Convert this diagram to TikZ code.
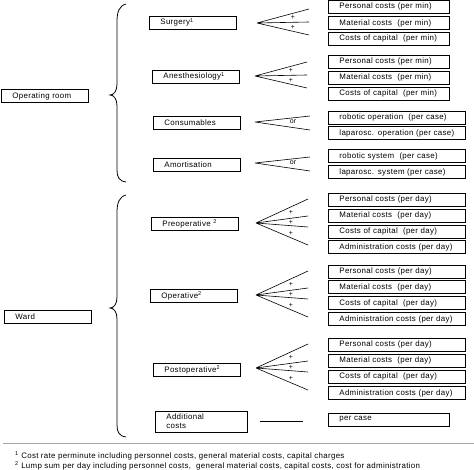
\documentclass[tikz,border=0pt]{standalone}
\usepackage{fontspec}
\setmainfont{Liberation Sans}[LetterSpace=4]
\tikzset{
  box/.style={rectangle, draw, line width=0.9pt, anchor=west, align=left,
    minimum height=13pt, inner xsep=11pt, inner ysep=0pt, font=\fontsize{7.9}{9}\selectfont},
  lbox/.style={box, text width=65pt},
  mbox/.style={box, text width=99pt},
  dbox/.style={box, text width=115pt},
  fan/.style={line width=0.6pt},
  sign/.style={font=\fontsize{7}{8}\selectfont, inner sep=0pt},
  brace/.style={line width=0.8pt},
  note/.style={anchor=west, inner sep=0pt, font=\fontsize{7.9}{9}\selectfont}
}
\begin{document}
\begin{tikzpicture}[x=1pt, y=-1pt]
\useasboundingbox (0,0) rectangle (474,470);

% ---- main cost centres ----
\node[lbox] (or) at (1,96) {Operating room};
\node[lbox] (ward) at (4,317) {Ward};

% ---- operating room ----
\node[lbox] (sur) at (149,22.5) {Surgery\textsuperscript{1}};
\node[lbox] (ane) at (152,76.5) {Anesthesiology\textsuperscript{1}};
\node[lbox] (con) at (153,123) {Consumables};
\node[lbox] (amo) at (153,164.5) {Amortisation};

\node[mbox] (sur1) at (328,6.5) {Personal costs (per min)};
\node[mbox] (sur2) at (328,23) {Material costs~ (per min)};
\node[mbox] (sur3) at (328,38.5) {Costs of capital~ (per min)};
\node[mbox] (ane1) at (328,61.5) {Personal costs (per min)};
\node[mbox] (ane2) at (328,77.5) {Material costs~ (per min)};
\node[mbox] (ane3) at (328,93.5) {Costs of capital~ (per min)};
\node[dbox] (con1) at (328,117.5) {robotic operation~ (per case)};
\node[dbox] (con2) at (328,133) {laparosc. operation (per case)};
\node[dbox] (amo1) at (328,156) {robotic system~ (per case)};
\node[dbox] (amo2) at (328,172) {laparosc. system (per case)};

% ---- ward ----
\node[lbox] (pre) at (151,223.5) {Preoperative \textsuperscript{2}};
\node[lbox] (ope) at (150,296) {Operative\textsuperscript{2}};
\node[lbox] (pos) at (153,370) {Postoperative\textsuperscript{2}};
\node[lbox, text width=70pt, minimum height=21pt] (add) at (155,421.5) {Additional\\costs};

\node[dbox] (pre1) at (328,199.5) {Personal costs (per day)};
\node[dbox] (pre2) at (328,215.5) {Material costs~ (per day)};
\node[dbox] (pre3) at (328,231.5) {Costs of capital~ (per day)};
\node[dbox] (pre4) at (328,247) {Administration costs (per day)};
\node[dbox] (ope1) at (328,271.5) {Personal costs (per day)};
\node[dbox] (ope2) at (328,287) {Material costs~ (per day)};
\node[dbox] (ope3) at (328,303) {Costs of capital~ (per day)};
\node[dbox] (ope4) at (328,319) {Administration costs (per day)};
\node[dbox] (pos1) at (328,344.5) {Personal costs (per day)};
\node[dbox] (pos2) at (328,360.5) {Material costs~ (per day)};
\node[dbox] (pos3) at (328,376.5) {Costs of capital~ (per day)};
\node[dbox] (pos4) at (328,393) {Administration costs (per day)};
\node[mbox] (pc) at (328,419.5) {per case};

% ---- braces ----
\draw[brace] (126,4) .. controls (119,6) and (117,12) .. (117,22) -- (117,84)
  .. controls (117,91) and (114,95) .. (110,95)
  .. controls (114,95) and (117,99) .. (117,106) -- (117,170)
  .. controls (117,177) and (119,181) .. (126,182);
\draw[brace] (126,195) .. controls (119,197) and (117,203) .. (117,213) -- (117,297)
  .. controls (117,304) and (114,308) .. (110,308)
  .. controls (114,308) and (117,312) .. (117,319) -- (117,425)
  .. controls (117,432) and (119,436) .. (126,437);

% ---- fans ----
\coordinate (surf) at (257,23);
\coordinate (anef) at (255,76);
\coordinate (conf) at (255,122);
\coordinate (amof) at (255,163);
\coordinate (pref) at (256,223);
\coordinate (opef) at (256,295);
\coordinate (posf) at (256,368);

\foreach \f in {surf, anef} {
  \draw[fan] (\f) -- ++(52,-14) (\f) -- ++(52,-1) (\f) -- ++(52,12);
  \node[sign] at ([shift={(36,-6)}]\f) {+};
  \node[sign] at ([shift={(36,4)}]\f) {+};
}
\foreach \f in {conf, amof} {
  \draw[fan] (\f) -- ++(55,-6) (\f) -- ++(55,8);
  \node[sign] at ([shift={(38,0)}]\f) {or};
}
\foreach \f in {pref, opef, posf} {
  \draw[fan] (\f) -- ++(52,-24) (\f) -- ++(52,-7) (\f) -- ++(52,4) (\f) -- ++(52,22);
  \node[sign] at ([shift={(35,-11)}]\f) {+};
  \node[sign] at ([shift={(35,-1)}]\f) {+};
  \node[sign] at ([shift={(35,10)}]\f) {+};
}
\draw[fan, shorten <=12pt, shorten >=25pt] (add.east) -- (add.east -| pc.west);

% ---- footnotes ----
\draw[gray!70, line width=1pt] (3,443) -- (474,443);
\node[note] (fn1) at (15,456) {\textsuperscript{1} Cost rate perminute including personnel costs, general material costs, capital charges};
\node[note] (fn2) at (15,465.5) {\textsuperscript{2} Lump sum per day including personnel costs,~ general material costs, capital costs, cost for administration};

\end{tikzpicture}
\end{document}
